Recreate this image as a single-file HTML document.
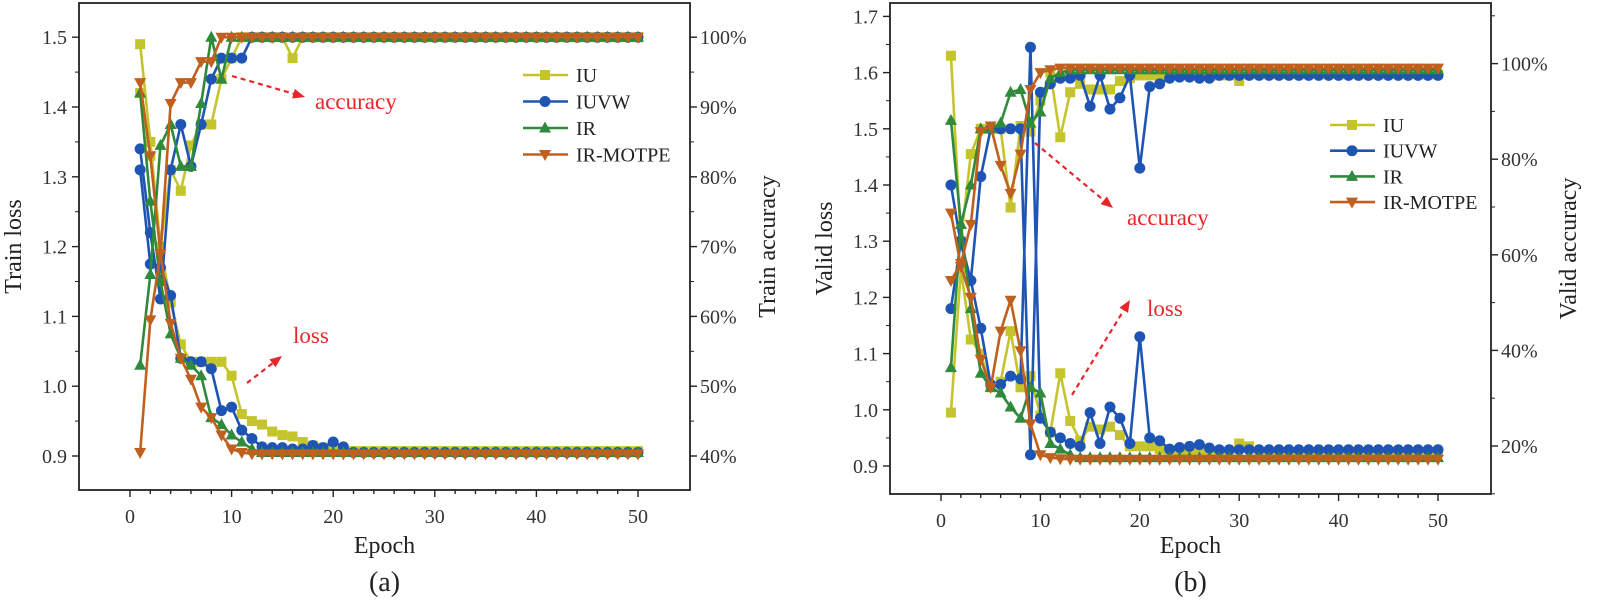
<!DOCTYPE html>
<html><head><meta charset="utf-8"><style>
body{margin:0;background:#fff}
svg{display:block;font-family:"Liberation Serif",serif}
</style></head><body>
<svg id="s" width="1600" height="613" xmlns="http://www.w3.org/2000/svg"></svg>
<script>
const S=document.getElementById('s');let h='';
const C={IU:'#c4c42c',IUVW:'#1e55b4',IR:'#2f8a3c',MO:'#c0601e'};
function fill(a,n,v){while(a.length<n)a.push(v);return a;}
function panel(P){
 const X=e=>P.x0+e*P.dx, Y=v=>P.y0-(v-P.v0)*P.dy;
 h+=`<rect x="${P.L}" y="${P.T}" width="${P.R-P.L}" height="${P.B-P.T}" fill="none" stroke="#222" stroke-width="1.8"/>`;
 for(let e=0;e<=50;e+=2){const x=X(e),big=e%10==0;h+=`<line x1="${x}" y1="${P.B}" x2="${x}" y2="${P.B+(big?7:4)}" stroke="#222" stroke-width="1.4"/>`;
  if(big)h+=`<text x="${x}" y="${P.B+33}" font-size="20" text-anchor="middle" fill="#333">${e}</text>`;}
 P.lt.forEach(v=>{const y=Y(v);h+=`<line x1="${P.L}" y1="${y}" x2="${P.L-7}" y2="${y}" stroke="#222" stroke-width="1.4"/><text x="${P.L-12}" y="${y+7}" font-size="20" text-anchor="end" fill="#333">${v.toFixed(1)}</text>`;
  const y2=Y(v+P.lstep/2);if(y2>P.T)h+=`<line x1="${P.L}" y1="${y2}" x2="${P.L-4}" y2="${y2}" stroke="#222"/>`;});
 P.rt.forEach(([y,t])=>{h+=`<line x1="${P.R}" y1="${y}" x2="${P.R+7}" y2="${y}" stroke="#222" stroke-width="1.4"/><text x="${P.R+10}" y="${y+7}" font-size="20" fill="#333">${t}</text>`;});
 P.rm.forEach(y=>{h+=`<line x1="${P.R}" y1="${y}" x2="${P.R+4}" y2="${y}" stroke="#222"/>`});
 const mk=(k,x,y)=>{const c=C[k];
  if(k=='IU')return `<rect x="${x-5}" y="${y-5}" width="10" height="10" fill="${c}"/>`;
  if(k=='IUVW')return `<circle cx="${x}" cy="${y}" r="5.5" fill="${c}"/>`;
  if(k=='IR')return `<polygon points="${x},${y-6.5} ${x-6},${y+4.5} ${x+6},${y+4.5}" fill="${c}"/>`;
  return `<polygon points="${x},${y+6.5} ${x-6},${y-4.5} ${x+6},${y-4.5}" fill="${c}"/>`;};
 ['IU','IUVW','IR','MO'].forEach(k=>{P.d[k].forEach(s=>{
   const pts=s.map((v,i)=>[X(i+1),Y(v)]);
   h+=`<polyline points="${pts.map(p=>p.join(',')).join(' ')}" fill="none" stroke="${C[k]}" stroke-width="2.6"/>`;
   pts.forEach(p=>h+=mk(k,p[0],p[1]));});});
 const names={IU:'IU',IUVW:'IUVW',IR:'IR',MO:'IR-MOTPE'};
 ['IU','IUVW','IR','MO'].forEach((k,i)=>{const y=P.lg[1]+i*P.lg[2];
  h+=`<line x1="${P.lg[0]}" y1="${y}" x2="${P.lg[0]+45}" y2="${y}" stroke="${C[k]}" stroke-width="2.6"/>`+mk(k,P.lg[0]+22,y)+`<text x="${P.lg[0]+53}" y="${y+7}" font-size="20" fill="#222">${names[k]}</text>`;});
 P.an.forEach(([x1,y1,x2,y2,t,tx,ty])=>{
  const a=Math.atan2(y2-y1,x2-x1),L=12;
  h+=`<line x1="${x1}" y1="${y1}" x2="${x2-Math.cos(a)*8}" y2="${y2-Math.sin(a)*8}" stroke="#e8262a" stroke-width="2.2" stroke-dasharray="5,4"/>`;
  h+=`<polygon points="${x2},${y2} ${x2-L*Math.cos(a)+5*Math.sin(a)},${y2-L*Math.sin(a)-5*Math.cos(a)} ${x2-L*Math.cos(a)-5*Math.sin(a)},${y2-L*Math.sin(a)+5*Math.cos(a)}" fill="#e8262a"/>`;
  h+=`<text x="${tx}" y="${ty}" font-size="23" fill="#e8262a">${t}</text>`;});
 const cx=(P.L+P.R)/2;
 h+=`<text x="${cx}" y="553" font-size="24" text-anchor="middle" fill="#222">Epoch</text>`;
 h+=`<text x="${cx}" y="591" font-size="28" text-anchor="middle" fill="#222">${P.lab}</text>`;
 h+=`<text transform="translate(${P.L-58},${(P.T+P.B)/2}) rotate(-90)" font-size="24" text-anchor="middle" fill="#222">${P.yl}</text>`;
 h+=`<text transform="translate(${P.R+85},${(P.T+P.B)/2}) rotate(-90)" font-size="24" text-anchor="middle" fill="#222">${P.yr}</text>`;
}
const A={L:79,R:690,T:3,B:490,x0:130,dx:10.16,y0:456,v0:0.9,dy:698,lstep:0.1,lt:[0.9,1.0,1.1,1.2,1.3,1.4,1.5],
 rt:[40,50,60,70,80,90,100].map((p,i)=>[456-i*69.8,p+'%']),rm:[40,50,60,70,80,90].map((p,i)=>456-i*69.8-34.9),
 lg:[523,75,26.5],lab:'(a)',yl:'Train loss',yr:'Train accuracy',
 an:[[232,76,305,97,'accuracy',315,109],[247,383,282,356,'loss',293,343]],
 d:{
 IU:[fill([1.49,1.35,1.2,1.31,1.28,1.345,1.375,1.375,1.44,1.47,1.5,1.5,1.5,1.5,1.5,1.47],50,1.5),
     fill([1.42,1.33,1.2,1.12,1.06,1.035,1.035,1.035,1.035,1.015,0.96,0.95,0.945,0.935,0.93,0.928,0.92,0.915,0.912,0.91],50,0.907)],
 IUVW:[fill([1.34,1.22,1.125,1.31,1.375,1.315,1.375,1.44,1.47,1.47,1.47],50,1.5),
     fill([1.31,1.175,1.17,1.13,1.04,1.035,1.035,1.025,0.965,0.97,0.937,0.925,0.913,0.912,0.912,0.91,0.91,0.915,0.912,0.92,0.913],50,0.905)],
 IR:[fill([1.03,1.16,1.345,1.375,1.315,1.315,1.405,1.5,1.44],50,1.5),
     fill([1.42,1.265,1.15,1.075,1.04,1.03,1.015,0.955,0.945,0.93,0.92,0.91],50,0.905)],
 MO:[fill([0.905,1.095,1.19,1.405,1.435,1.435,1.465,1.465],50,1.5),
     fill([1.435,1.33,1.19,1.09,1.04,1.01,0.97,0.955,0.93,0.91,0.905],50,0.903)]}};
const B={L:890,R:1491,T:3,B:494,x0:941,dx:9.94,y0:466,v0:0.9,dy:562,lstep:0.1,lt:[0.9,1.0,1.1,1.2,1.3,1.4,1.5,1.6,1.7],
 rt:[20,40,60,80,100].map((p,i)=>[446-i*95.6,p+'%']),rm:[10,30,50,70,90,110].map(p=>446-(p-20)*4.78),
 lg:[1330,125,25.7],lab:'(b)',yl:'Valid loss',yr:'Valid accuracy',
 an:[[1035,143,1113,208,'accuracy',1127,225],[1072,395,1130,300,'loss',1147,316]],
 d:{
 IU:[fill([1.63,1.3,1.455,1.5,1.5,1.5,1.36,1.505,1.495,1.55,1.6,1.485,1.565,1.58,1.57,1.57,1.57,1.585,1.59,1.595,1.595,1.595,1.595,1.595,1.595,1.595,1.595,1.595,1.595,1.585],50,1.597),
     fill([0.995,1.25,1.125,1.1,1.04,1.05,1.14,1.04,1.06,0.99,0.96,1.065,0.98,0.945,0.97,0.965,0.97,0.955,0.935,0.935,0.935,0.93,0.928,0.926,0.925,0.925,0.925,0.925,0.925,0.94,0.935],50,0.925)],
 IUVW:[fill([1.18,1.3,1.23,1.415,1.5,1.5,1.5,1.5,0.92,1.565,1.58,1.59,1.59,1.595,1.54,1.595,1.535,1.555,1.595,1.43,1.575,1.58,1.59,1.592,1.592,1.59,1.59],50,1.595),
     fill([1.4,1.295,1.23,1.145,1.045,1.045,1.06,1.055,1.645,0.985,0.96,0.95,0.94,0.935,0.995,0.94,1.005,0.985,0.94,1.13,0.95,0.945,0.93,0.933,0.935,0.938,0.932],50,0.929)],
 IR:[fill([1.075,1.33,1.4,1.5,1.5,1.51,1.565,1.57,1.51,1.53,1.59,1.6],50,1.605),
     fill([1.515,1.33,1.18,1.065,1.04,1.03,1.005,0.985,1.04,1.03,0.94,0.93,0.92],50,0.915)],
 MO:[fill([1.23,1.26,1.33,1.495,1.505,1.435,1.385,1.455,1.57,1.6,1.605],50,1.608),
     fill([1.35,1.255,1.2,1.09,1.04,1.14,1.195,1.105,0.975,0.92,0.915,0.913],50,0.912)]}};
panel(A);panel(B);
S.innerHTML=h;
</script>
</body></html>
